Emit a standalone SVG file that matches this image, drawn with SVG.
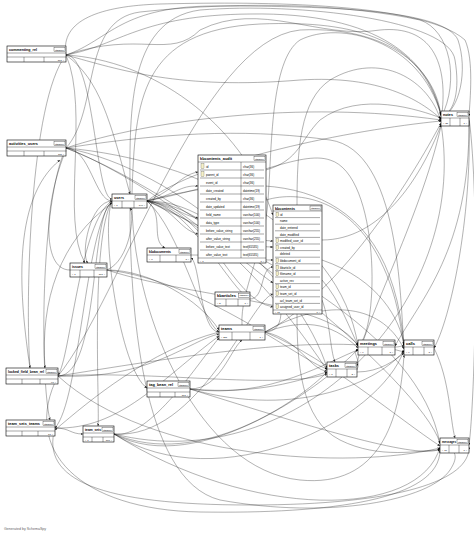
<svg xmlns="http://www.w3.org/2000/svg" width="474" height="535" viewBox="0 0 474 535" font-family="'Liberation Sans', Arial, sans-serif">
<style>
.box{fill:#fff;stroke:#000;stroke-width:0.6}
.ln{stroke:#000;stroke-width:0.35;fill:none}
.t{font-family:'Liberation Sans',Arial,sans-serif;font-size:3px;fill:#000}
.h{font-family:'Liberation Sans',Arial,sans-serif;font-size:3.2px;font-weight:bold;fill:#000}
.s{font-family:'Liberation Sans',Arial,sans-serif;font-size:2.5px;fill:#000}
.tag{fill:#fff;stroke:#000;stroke-width:0.3}
.c{stroke:#111;stroke-width:0.4;fill:none;opacity:0.8}
.k{fill:#f5f0c8;stroke:#000;stroke-width:0.2}
.ft{font-family:'Liberation Sans',Arial,sans-serif;font-size:3.6px;fill:#666}
</style>
<defs>
<marker id="m" viewBox="0 0 4 4" refX="4" refY="2" markerWidth="2.5" markerHeight="2.5" orient="auto" markerUnits="userSpaceOnUse"><path d="M0,0 L4,2 L0,4 z" fill="#000"/></marker>
</defs>
<rect width="474" height="535" fill="#fff"/>
<g id="connectors" marker-end="url(#m)">
<path class="c" d="M66,55 C95,55 95,199 112,199"/>
<path class="c" d="M66,55 C120,45 140,15 250,14 C380,12 430,60 441,116"/>
<path class="c" d="M66,55 C110,40 120,5 220,6 C330,6 445,10 458,40 C468,70 460,110 441,118"/>
<path class="c" d="M66,55 C120,70 180,90 300,80 C380,75 420,100 441,119"/>
<path class="c" d="M66,55 C100,80 110,120 130,194"/>
<path class="c" d="M66,55 C90,110 60,220 85,263"/>
<path class="c" d="M66,55 C150,60 240,120 273,215"/>
<path class="c" d="M66,55 C30,100 25,300 30,368"/>
<path class="c" d="M66,55 C140,30 170,60 200,30 C260,0 320,40 380,30 C430,25 450,60 441,121"/>
<path class="c" d="M66,148 C90,148 95,201 112,201"/>
<path class="c" d="M66,148 C150,120 300,100 441,120"/>
<path class="c" d="M66,148 C180,130 260,130 330,140 C400,150 400,300 404,346"/>
<path class="c" d="M66,148 C200,160 340,230 358,346"/>
<path class="c" d="M66,148 C180,170 300,280 327,368"/>
<path class="c" d="M66,148 C150,180 240,260 273,283"/>
<path class="c" d="M66,148 C200,200 420,380 440,443"/>
<path class="c" d="M66,148 C40,200 40,380 50,420"/>
<path class="c" d="M147,201 C200,201 220,240 273,241"/>
<path class="c" d="M147,201 C200,205 220,248 273,247"/>
<path class="c" d="M147,201 C210,210 230,300 273,307"/>
<path class="c" d="M147,201 C165,215 150,240 165,248"/>
<path class="c" d="M147,201 C190,205 230,290 250,299"/>
<path class="c" d="M147,201 C180,230 200,320 219,332"/>
<path class="c" d="M147,201 C250,180 300,150 330,160 C380,175 380,330 358,346"/>
<path class="c" d="M147,201 C260,170 390,170 404,346"/>
<path class="c" d="M147,201 C200,160 350,130 441,121"/>
<path class="c" d="M147,201 C230,230 300,330 327,370"/>
<path class="c" d="M147,201 C250,250 420,330 440,444"/>
<path class="c" d="M147,201 C175,190 180,175 198,172"/>
<path class="c" d="M147,201 C175,195 180,185 198,186"/>
<path class="c" d="M147,201 C175,205 180,215 198,218"/>
<path class="c" d="M147,201 C175,210 180,230 198,234"/>
<path class="c" d="M112,201 C90,201 80,255 88,263"/>
<path class="c" d="M112,201 C80,220 70,360 58,375"/>
<path class="c" d="M112,201 C85,230 80,400 55,428"/>
<path class="c" d="M112,201 C90,240 100,410 98,426"/>
<path class="c" d="M112,201 C100,230 120,370 147,388"/>
<path class="c" d="M130,194 C130,120 125,20 200,10 C300,2 450,20 455,60 C460,90 455,112 441,117"/>
<path class="c" d="M130,208 C130,300 140,480 220,500 C330,520 430,500 450,470 C460,455 455,448 440,446"/>
<path class="c" d="M132,194 C135,100 140,30 260,24 C360,20 420,40 441,114"/>
<path class="c" d="M132,208 C135,320 200,470 300,480 C380,488 400,420 404,355"/>
<path class="c" d="M265,332 C290,332 280,290 273,287"/>
<path class="c" d="M219,332 C200,332 200,262 191,258"/>
<path class="c" d="M265,332 C300,340 310,370 327,371"/>
<path class="c" d="M265,332 C300,320 330,320 358,348"/>
<path class="c" d="M265,332 C320,300 380,300 404,349"/>
<path class="c" d="M265,332 C330,300 400,200 441,123"/>
<path class="c" d="M265,332 C330,360 400,420 440,446"/>
<path class="c" d="M219,332 C150,350 90,400 55,430"/>
<path class="c" d="M242,325 C240,290 265,250 268,200 C272,150 270,60 300,40 C340,20 420,40 441,115"/>
<path class="c" d="M191,255 C230,255 240,260 273,260"/>
<path class="c" d="M250,299 C265,299 260,267 273,267"/>
<path class="c" d="M114,434 C200,440 250,300 273,294"/>
<path class="c" d="M114,434 C200,470 300,400 327,372"/>
<path class="c" d="M114,434 C200,480 330,380 358,349"/>
<path class="c" d="M114,434 C220,500 380,420 404,350"/>
<path class="c" d="M114,434 C250,520 420,520 440,447"/>
<path class="c" d="M114,434 C300,480 470,300 441,124"/>
<path class="c" d="M114,434 C150,440 200,360 219,338"/>
<path class="c" d="M55,428 C70,428 70,434 83,434"/>
<path class="c" d="M190,389 C220,389 230,350 242,340"/>
<path class="c" d="M190,389 C260,395 300,380 327,372"/>
<path class="c" d="M190,389 C270,400 330,360 358,350"/>
<path class="c" d="M190,389 C300,420 380,380 404,351"/>
<path class="c" d="M190,389 C320,430 420,460 440,449"/>
<path class="c" d="M58,376 C100,376 90,210 112,203"/>
<path class="c" d="M58,376 C150,380 190,340 219,334"/>
<path class="c" d="M58,376 C150,460 350,470 440,448"/>
<path class="c" d="M58,376 C120,300 200,40 300,30 C400,25 440,80 441,120"/>
<path class="c" d="M58,376 C150,370 280,390 327,374"/>
<path class="c" d="M58,376 C160,360 330,330 404,352"/>
<path class="c" d="M58,376 C20,450 80,510 200,512 C330,514 440,500 440,450"/>
<path class="c" d="M55,428 C120,430 160,380 219,336"/>
<path class="c" d="M55,428 C40,480 100,505 250,505 C400,505 470,480 469,447"/>
<path class="c" d="M395,347 C400,347 400,346 404,346"/>
<path class="c" d="M357,370 C362,360 350,350 358,350"/>
<path class="c" d="M357,372 C380,372 395,360 404,353"/>
<path class="c" d="M469,118 C480,200 475,400 469,445"/>
<path class="c" d="M469,120 C472,220 450,320 434,348"/>
<path class="c" d="M469,121 C470,250 420,300 395,346"/>
<path class="c" d="M441,126 C420,220 360,330 357,366"/>
<path class="c" d="M434,348 C450,380 450,420 455,438"/>
<path class="c" d="M297,205 C297,150 300,100 330,80 C380,50 430,80 441,122"/>
<path class="c" d="M297,314 C297,360 300,420 340,440 C380,460 420,450 440,450"/>
<path class="c" d="M322,240 C380,240 420,180 441,125"/>
<path class="c" d="M322,260 C380,280 400,320 404,345"/>
<path class="c" d="M322,280 C340,300 350,330 358,345"/>
<path class="c" d="M322,300 C330,320 330,350 335,362"/>
<path class="c" d="M266,170 C300,160 300,140 320,120 C360,90 420,110 441,118"/>
<path class="c" d="M266,200 C300,190 350,200 380,260 C400,300 400,330 404,344"/>
<path class="c" d="M107,270 C150,270 200,300 219,330"/>
<path class="c" d="M107,270 C200,280 300,360 327,369"/>
<path class="c" d="M107,270 C200,300 330,300 358,346"/>
<path class="c" d="M70,270 C40,270 45,200 66,150"/>
<path class="c" d="M107,270 C130,260 135,215 130,208"/>
<path class="c" d="M66,148 C100,110 80,20 140,12 C250,0 350,5 420,20 C450,30 460,80 441,118"/>
<path class="c" d="M66,55 C60,20 100,6 160,4 C240,2 420,0 465,40 C474,60 470,100 469,116"/>
<path class="c" d="M30,368 C20,300 10,200 60,160"/>
<path class="c" d="M112,203 C60,240 40,300 45,368"/>
</g>
<g id="commenting_rel">
<rect class="box" x="7" y="46" width="59" height="16"/>
<line class="ln" x1="7" y1="53" x2="66" y2="53"/><line class="ln" x1="7" y1="57" x2="66" y2="57"/>
<line class="ln" x1="24" y1="57" x2="24" y2="62"/><line class="ln" x1="44" y1="57" x2="44" y2="62"/>
<text class="h" x="9" y="51" textLength="28" lengthAdjust="spacingAndGlyphs">commenting_rel</text><rect class="tag" x="54" y="47.5" width="11" height="4"/><text class="s" x="55" y="50.5" textLength="9" lengthAdjust="spacingAndGlyphs">[table]</text>
<text class="s" x="64" y="61" text-anchor="end">101 &gt;</text>
</g>
<g id="activities_users">
<rect class="box" x="7" y="140" width="59" height="16"/>
<line class="ln" x1="7" y1="147" x2="66" y2="147"/><line class="ln" x1="7" y1="151" x2="66" y2="151"/>
<line class="ln" x1="24" y1="151" x2="24" y2="156"/><line class="ln" x1="44" y1="151" x2="44" y2="156"/>
<text class="h" x="9" y="145" textLength="29" lengthAdjust="spacingAndGlyphs">activities_users</text><rect class="tag" x="54" y="141.5" width="11" height="4"/><text class="s" x="55" y="144.5" textLength="9" lengthAdjust="spacingAndGlyphs">[table]</text>
<text class="s" x="64" y="155" text-anchor="end">111 &gt;</text>
</g>
<g id="users">
<rect class="box" x="112" y="194" width="35" height="14"/>
<line class="ln" x1="112" y1="201" x2="147" y2="201"/>
<line class="ln" x1="122" y1="201" x2="122" y2="208"/><line class="ln" x1="134" y1="201" x2="134" y2="208"/>
<text class="h" x="114" y="199" textLength="10" lengthAdjust="spacingAndGlyphs">users</text><rect class="tag" x="135" y="195.5" width="11" height="4"/><text class="s" x="136" y="198.5" textLength="9" lengthAdjust="spacingAndGlyphs">[table]</text>
<text class="s" x="114" y="206">&lt; 1</text><text class="s" x="145" y="206" text-anchor="end">146 &gt;</text>
</g>
<g id="issues">
<rect class="box" x="70" y="263" width="37" height="14"/>
<line class="ln" x1="70" y1="270" x2="107" y2="270"/>
<line class="ln" x1="80" y1="270" x2="80" y2="277"/><line class="ln" x1="94" y1="270" x2="94" y2="277"/>
<text class="h" x="72" y="268" textLength="11" lengthAdjust="spacingAndGlyphs">issues</text><rect class="tag" x="95" y="264.5" width="11" height="4"/><text class="s" x="96" y="267.5" textLength="9" lengthAdjust="spacingAndGlyphs">[table]</text>
<text class="s" x="72" y="275">&lt; 1</text><text class="s" x="105" y="275" text-anchor="end">101 &gt;</text>
</g>
<g id="kbdocuments">
<rect class="box" x="147" y="248" width="44" height="14"/>
<line class="ln" x1="147" y1="255" x2="191" y2="255"/>
<line class="ln" x1="160" y1="255" x2="160" y2="262"/><line class="ln" x1="176" y1="255" x2="176" y2="262"/>
<text class="h" x="149" y="253" textLength="22" lengthAdjust="spacingAndGlyphs">kbdocuments</text><rect class="tag" x="179" y="249.5" width="11" height="4"/><text class="s" x="180" y="252.5" textLength="9" lengthAdjust="spacingAndGlyphs">[table]</text>
<text class="s" x="149" y="260">&lt; 1</text><text class="s" x="189" y="260" text-anchor="end">3 &gt;</text>
</g>
<g id="kbcontents_audit">
<rect class="box" x="198" y="155" width="68" height="108"/>
<line class="ln" x1="198" y1="162" x2="266" y2="162"/>
<text class="h" x="200" y="160" textLength="32" lengthAdjust="spacingAndGlyphs">kbcontents_audit</text><rect class="tag" x="254" y="156.5" width="11" height="4"/><text class="s" x="255" y="159.5" textLength="9" lengthAdjust="spacingAndGlyphs">[table]</text>
<line class="ln" x1="200" y1="170" x2="264" y2="170"/><line class="ln" x1="200" y1="178" x2="264" y2="178"/><line class="ln" x1="200" y1="186" x2="264" y2="186"/><line class="ln" x1="200" y1="194" x2="264" y2="194"/><line class="ln" x1="200" y1="202" x2="264" y2="202"/><line class="ln" x1="200" y1="210" x2="264" y2="210"/><line class="ln" x1="200" y1="218" x2="264" y2="218"/><line class="ln" x1="200" y1="226" x2="264" y2="226"/><line class="ln" x1="200" y1="234" x2="264" y2="234"/><line class="ln" x1="200" y1="242" x2="264" y2="242"/><line class="ln" x1="200" y1="250" x2="264" y2="250"/><line class="ln" x1="198" y1="258" x2="266" y2="258"/>
<line class="ln" x1="241" y1="162" x2="241" y2="258"/>
<rect class="k" x="201" y="163.5" width="3" height="5"/><rect class="k" x="201" y="171.5" width="3" height="5"/>
<text class="t" x="206" y="167.5">id</text><text class="t" x="243" y="167.5">char(36)</text>
<text class="t" x="206" y="175.5">parent_id</text><text class="t" x="243" y="175.5">char(36)</text>
<text class="t" x="206" y="183.5">event_id</text><text class="t" x="243" y="183.5">char(36)</text>
<text class="t" x="206" y="191.5">date_created</text><text class="t" x="243" y="191.5">datetime(19)</text>
<text class="t" x="206" y="199.5">created_by</text><text class="t" x="243" y="199.5">char(36)</text>
<text class="t" x="206" y="207.5">date_updated</text><text class="t" x="243" y="207.5">datetime(19)</text>
<text class="t" x="206" y="215.5">field_name</text><text class="t" x="243" y="215.5">varchar(100)</text>
<text class="t" x="206" y="223.5">data_type</text><text class="t" x="243" y="223.5">varchar(100)</text>
<text class="t" x="206" y="231.5">before_value_string</text><text class="t" x="243" y="231.5">varchar(255)</text>
<text class="t" x="206" y="239.5">after_value_string</text><text class="t" x="243" y="239.5">varchar(255)</text>
<text class="t" x="206" y="247.5">before_value_text</text><text class="t" x="243" y="247.5">text(65535)</text>
<text class="t" x="206" y="255.5">after_value_text</text><text class="t" x="243" y="255.5">text(65535)</text>
<text class="s" x="200" y="262">&lt; 1</text><text class="s" x="264" y="262" text-anchor="end">0 &gt;</text>
</g>
<g id="kbcontents">
<rect class="box" x="273" y="205" width="49" height="109"/>
<line class="ln" x1="273" y1="211" x2="322" y2="211"/>
<text class="h" x="275" y="209.5" textLength="20" lengthAdjust="spacingAndGlyphs">kbcontents</text><rect class="tag" x="310" y="206" width="11" height="4"/><text class="s" x="311" y="209" textLength="9" lengthAdjust="spacingAndGlyphs">[table]</text>
<line class="ln" x1="275" y1="217.6" x2="320" y2="217.6"/><line class="ln" x1="275" y1="224.2" x2="320" y2="224.2"/><line class="ln" x1="275" y1="230.8" x2="320" y2="230.8"/><line class="ln" x1="275" y1="237.4" x2="320" y2="237.4"/><line class="ln" x1="275" y1="244" x2="320" y2="244"/><line class="ln" x1="275" y1="250.6" x2="320" y2="250.6"/><line class="ln" x1="275" y1="257.2" x2="320" y2="257.2"/><line class="ln" x1="275" y1="263.8" x2="320" y2="263.8"/><line class="ln" x1="275" y1="270.4" x2="320" y2="270.4"/><line class="ln" x1="275" y1="277" x2="320" y2="277"/><line class="ln" x1="275" y1="283.6" x2="320" y2="283.6"/><line class="ln" x1="275" y1="290.2" x2="320" y2="290.2"/><line class="ln" x1="275" y1="296.8" x2="320" y2="296.8"/><line class="ln" x1="275" y1="303.4" x2="320" y2="303.4"/><line class="ln" x1="273" y1="310" x2="322" y2="310"/>
<rect class="k" x="276" y="212.3" width="2.5" height="4"/><rect class="k" x="276" y="238.7" width="2.5" height="4"/><rect class="k" x="276" y="245.3" width="2.5" height="4"/><rect class="k" x="276" y="258.5" width="2.5" height="4"/><rect class="k" x="276" y="265.1" width="2.5" height="4"/><rect class="k" x="276" y="271.7" width="2.5" height="4"/><rect class="k" x="276" y="284.9" width="2.5" height="4"/><rect class="k" x="276" y="291.5" width="2.5" height="4"/><rect class="k" x="276" y="304.7" width="2.5" height="4"/>
<text class="t" x="280" y="215.7">id</text>
<text class="t" x="280" y="222.3">name</text>
<text class="t" x="280" y="228.9">date_entered</text>
<text class="t" x="280" y="235.5">date_modified</text>
<text class="t" x="280" y="242.1">modified_user_id</text>
<text class="t" x="280" y="248.7">created_by</text>
<text class="t" x="280" y="255.3">deleted</text>
<text class="t" x="280" y="261.9">kbdocument_id</text>
<text class="t" x="280" y="268.5">kbarticle_id</text>
<text class="t" x="280" y="275.1">filename_id</text>
<text class="t" x="280" y="281.7">active_rev</text>
<text class="t" x="280" y="288.3">team_id</text>
<text class="t" x="280" y="294.9">team_set_id</text>
<text class="t" x="280" y="301.5">acl_team_set_id</text>
<text class="t" x="280" y="308.1">assigned_user_id</text>
<text class="s" x="275" y="313">&lt; 17</text><text class="s" x="320" y="313" text-anchor="end">6 &gt;</text>
</g>
<g id="kbarticles">
<rect class="box" x="215" y="292" width="35" height="14"/>
<line class="ln" x1="215" y1="299" x2="250" y2="299"/>
<line class="ln" x1="226" y1="299" x2="226" y2="306"/><line class="ln" x1="238" y1="299" x2="238" y2="306"/>
<text class="h" x="217" y="297" textLength="19" lengthAdjust="spacingAndGlyphs">kbarticles</text><rect class="tag" x="238.5" y="293.3" width="11" height="4"/><text class="s" x="239.5" y="296.3" textLength="9" lengthAdjust="spacingAndGlyphs">[table]</text>
<text class="s" x="217" y="304">&lt; 5</text><text class="s" x="248" y="304" text-anchor="end">1 &gt;</text>
</g>
<g id="teams">
<rect class="box" x="219" y="325" width="46" height="15"/>
<line class="ln" x1="219" y1="332" x2="265" y2="332"/>
<line class="ln" x1="232" y1="332" x2="232" y2="340"/><line class="ln" x1="250" y1="332" x2="250" y2="340"/>
<text class="h" x="221" y="330" textLength="11" lengthAdjust="spacingAndGlyphs">teams</text><rect class="tag" x="253" y="326.5" width="11" height="4"/><text class="s" x="254" y="329.5" textLength="9" lengthAdjust="spacingAndGlyphs">[table]</text>
<text class="s" x="221" y="338">&lt; 211</text><text class="s" x="263" y="338" text-anchor="end">1 &gt;</text>
</g>
<g id="tag_bean_rel">
<rect class="box" x="147" y="381" width="43" height="16"/>
<line class="ln" x1="147" y1="388" x2="190" y2="388"/><line class="ln" x1="147" y1="392" x2="190" y2="392"/>
<line class="ln" x1="160" y1="392" x2="160" y2="397"/><line class="ln" x1="175" y1="392" x2="175" y2="397"/>
<text class="h" x="149" y="386" textLength="24" lengthAdjust="spacingAndGlyphs">tag_bean_rel</text><rect class="tag" x="178" y="382.5" width="11" height="4"/><text class="s" x="179" y="385.5" textLength="9" lengthAdjust="spacingAndGlyphs">[table]</text>
<text class="s" x="188" y="396" text-anchor="end">101 &gt;</text>
</g>
<g id="tasks">
<rect class="box" x="327" y="362" width="30" height="15"/>
<line class="ln" x1="327" y1="369" x2="357" y2="369"/>
<line class="ln" x1="336" y1="369" x2="336" y2="377"/><line class="ln" x1="347" y1="369" x2="347" y2="377"/>
<text class="h" x="329" y="367" textLength="10" lengthAdjust="spacingAndGlyphs">tasks</text><rect class="tag" x="345" y="363.5" width="11" height="4"/><text class="s" x="346" y="366.5" textLength="9" lengthAdjust="spacingAndGlyphs">[table]</text>
<text class="s" x="329" y="375">&lt; 7</text><text class="s" x="355" y="375" text-anchor="end">2 &gt;</text>
</g>
<g id="meetings">
<rect class="box" x="358" y="340" width="37" height="15"/>
<line class="ln" x1="358" y1="347" x2="395" y2="347"/>
<line class="ln" x1="368" y1="347" x2="368" y2="355"/><line class="ln" x1="382" y1="347" x2="382" y2="355"/>
<text class="h" x="360" y="345" textLength="17" lengthAdjust="spacingAndGlyphs">meetings</text><rect class="tag" x="383" y="341.5" width="11" height="4"/><text class="s" x="384" y="344.5" textLength="9" lengthAdjust="spacingAndGlyphs">[table]</text>
<text class="s" x="360" y="353">&lt; 9</text><text class="s" x="393" y="353" text-anchor="end">3 &gt;</text>
</g>
<g id="calls">
<rect class="box" x="404" y="340" width="30" height="15"/>
<line class="ln" x1="404" y1="347" x2="434" y2="347"/>
<line class="ln" x1="413" y1="347" x2="413" y2="355"/><line class="ln" x1="424" y1="347" x2="424" y2="355"/>
<text class="h" x="406" y="345" textLength="9" lengthAdjust="spacingAndGlyphs">calls</text><rect class="tag" x="422" y="341.5" width="11" height="4"/><text class="s" x="423" y="344.5" textLength="9" lengthAdjust="spacingAndGlyphs">[table]</text>
<text class="s" x="406" y="353">&lt; 9</text><text class="s" x="432" y="353" text-anchor="end">3 &gt;</text>
</g>
<g id="notes">
<rect class="box" x="441" y="111" width="28" height="15"/>
<line class="ln" x1="441" y1="118" x2="469" y2="118"/>
<line class="ln" x1="450" y1="118" x2="450" y2="126"/><line class="ln" x1="460" y1="118" x2="460" y2="126"/>
<text class="h" x="443" y="116" textLength="10" lengthAdjust="spacingAndGlyphs">notes</text><rect class="tag" x="457" y="112.5" width="11" height="4"/><text class="s" x="458" y="115.5" textLength="9" lengthAdjust="spacingAndGlyphs">[table]</text>
<text class="s" x="443" y="124">&lt; 38</text><text class="s" x="467" y="124" text-anchor="end">1 &gt;</text>
</g>
<g id="messages">
<rect class="box" x="440" y="438" width="29" height="15"/>
<line class="ln" x1="440" y1="445" x2="469" y2="445"/>
<line class="ln" x1="449" y1="445" x2="449" y2="453"/><line class="ln" x1="459" y1="445" x2="459" y2="453"/>
<text class="h" x="442" y="443" textLength="14" lengthAdjust="spacingAndGlyphs">messages</text><rect class="tag" x="457" y="439.5" width="11" height="4"/><text class="s" x="458" y="442.5" textLength="9" lengthAdjust="spacingAndGlyphs">[table]</text>
<text class="s" x="442" y="451">&lt; 10</text><text class="s" x="467" y="451" text-anchor="end">0 &gt;</text>
</g>
<g id="locked_field_bean_rel">
<rect class="box" x="6" y="368" width="52" height="16"/>
<line class="ln" x1="6" y1="375" x2="58" y2="375"/><line class="ln" x1="6" y1="379" x2="58" y2="379"/>
<line class="ln" x1="22" y1="379" x2="22" y2="384"/><line class="ln" x1="40" y1="379" x2="40" y2="384"/>
<text class="h" x="8" y="373" textLength="36" lengthAdjust="spacingAndGlyphs">locked_field_bean_rel</text><rect class="tag" x="46" y="369.5" width="11" height="4"/><text class="s" x="47" y="372.5" textLength="9" lengthAdjust="spacingAndGlyphs">[table]</text>
<text class="s" x="56" y="383" text-anchor="end">96 &gt;</text>
</g>
<g id="team_sets_teams">
<rect class="box" x="6" y="420" width="49" height="16"/>
<line class="ln" x1="6" y1="427" x2="55" y2="427"/><line class="ln" x1="6" y1="431" x2="55" y2="431"/>
<line class="ln" x1="22" y1="431" x2="22" y2="436"/><line class="ln" x1="38" y1="431" x2="38" y2="436"/>
<text class="h" x="8" y="425" textLength="32" lengthAdjust="spacingAndGlyphs">team_sets_teams</text><rect class="tag" x="43" y="421.5" width="11" height="4"/><text class="s" x="44" y="424.5" textLength="9" lengthAdjust="spacingAndGlyphs">[table]</text>
<text class="s" x="53" y="435" text-anchor="end">71 &gt;</text>
</g>
<g id="team_sets">
<rect class="box" x="83" y="426" width="31" height="16"/>
<line class="ln" x1="83" y1="433" x2="114" y2="433"/><line class="ln" x1="83" y1="437" x2="114" y2="437"/>
<line class="ln" x1="92" y1="437" x2="92" y2="442"/><line class="ln" x1="103" y1="437" x2="103" y2="442"/>
<text class="h" x="85" y="431" textLength="16" lengthAdjust="spacingAndGlyphs">team_sets</text><rect class="tag" x="102" y="427.5" width="11" height="4"/><text class="s" x="103" y="430.5" textLength="9" lengthAdjust="spacingAndGlyphs">[table]</text>
<text class="s" x="85" y="441">&lt; 1</text><text class="s" x="112" y="441" text-anchor="end">100 &gt;</text>
</g>
<text class="ft" x="4" y="530">Generated by SchemaSpy</text>
</svg>
